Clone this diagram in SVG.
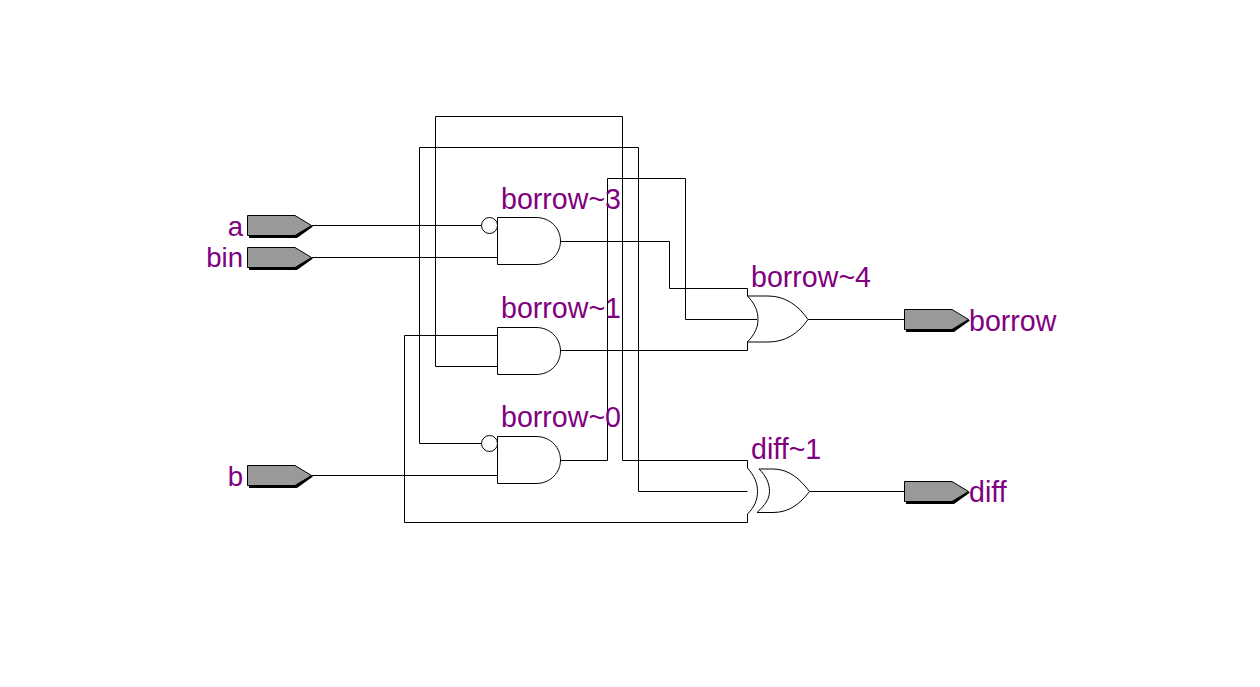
<svg xmlns="http://www.w3.org/2000/svg" width="1260" height="687" viewBox="0 0 1260 687">
<style>
.w,.g{fill:none;stroke:#000;stroke-width:1}
.g{fill:#fff}
.t{font-family:"Liberation Sans",Arial,sans-serif;font-size:28.6px;fill:#800080}
.i{font-size:27.6px;text-anchor:end}
.p{fill:#999;stroke:#000;stroke-width:1}
.s{fill:#000}
</style>
<defs>
<g id="pin"><path class="s" d="M2 3H48L66 11.500L50 23H2Z"/><path class="p" d="M0.500 0.500H48L64.500 10.500L48 20.500H0.500Z"/></g>
<path id="and" class="g" d="M0.500 0.500H39C54 0.500 63.500 12 63.500 24C63.500 36 54 47.500 39 47.500H0.500Z"/>
</defs>
<rect width="1260" height="687" fill="#fff"/>
<g id="connectors">
<path class="w" d="M312 225.500H482"/>
<path class="w" d="M312 257.500H497"/>
<path class="w" d="M312 475.500H497"/>
<path class="w" d="M497 366.500H435.500V116.500H622.500V460.500H747.500V468"/>
<path class="w" d="M482 443.500H419.500V147.500H638.500V491.500H757"/>
<path class="w" d="M497 335.500H404.500V522.500H747.500V514"/>
<path class="w" d="M561 241.500H669.500V288.500H747.500V296"/>
<path class="w" d="M561 460.500H607.500V178.500H685.500V319.500H757"/>
<path class="w" d="M561 350.500H747.500V342"/>
<path class="w" d="M808 319.500H904"/>
<path class="w" d="M809 491.500H904"/>
</g>
<g id="a"><use href="#pin" x="247" y="215"/><text class="t i" x="243" y="236">a</text></g>
<g id="bin"><use href="#pin" x="247" y="247"/><text class="t i" x="243" y="267">bin</text></g>
<g id="b"><use href="#pin" x="247" y="465"/><text class="t i" x="243" y="486">b</text></g>
<g id="borrow-3"><use href="#and" x="497" y="217"/><circle class="g" cx="489.500" cy="225.500" r="8"/><text class="t" x="501" y="209">borrow~3</text></g>
<g id="borrow-1"><use href="#and" x="497" y="327"/><text class="t" x="501" y="318">borrow~1</text></g>
<g id="borrow-0"><use href="#and" x="497" y="436"/><circle class="g" cx="489.500" cy="443.500" r="8"/><text class="t" x="501" y="427">borrow~0</text></g>
<g id="borrow-4"><path class="g" d="M747.500 296H768C785 296 798 305 808 319.500C798 334 785 342 768 342H747.500C755 334 758 327 758 319.500C758 311 755 304 747.500 296Z"/><text class="t" x="751" y="287">borrow~4</text></g>
<g id="diff-1"><path class="g" d="M747.500 468C754.500 476 757.500 483 757.500 491.500C757.500 500 754.500 507 747.500 514"/><path class="g" d="M759 469H773C789 469 800 479 809.500 491.500C800 504 789 512.500 773 512.500H757C765 505 769.500 499 769.500 491.500C769.500 483 766 476 759 469Z"/><text class="t" x="751" y="459">diff~1</text></g>
<g id="borrow"><use href="#pin" x="904" y="309"/><text class="t" x="969" y="331">borrow</text></g>
<g id="diff"><use href="#pin" x="904" y="481"/><text class="t" x="969" y="502">diff</text></g>
</svg>
